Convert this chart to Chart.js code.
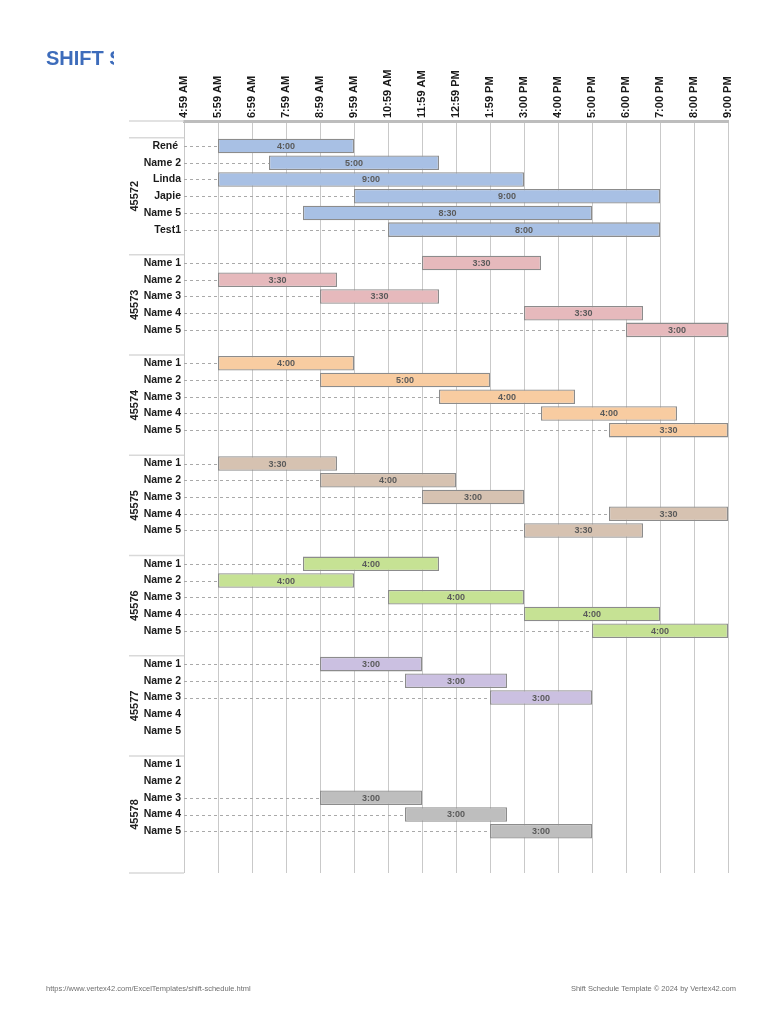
<!DOCTYPE html>
<html>
<head>
<meta charset="utf-8">
<script src="https://cdn.jsdelivr.net/npm/chart.js@4"></script>
<style>
    body { margin: 0; background: #fff; font-family: "Liberation Sans", Arial, sans-serif; }
    #wrap { position: relative; width: 768px; height: 1024px; }
    #grafico { position: absolute; left: 0; top: 0; }
    .titulo {
        position: absolute; left: 46px; top: 47px; width: 68px; overflow: hidden;
        white-space: nowrap; color: #3d6cbb; font-size: 20px; font-weight: bold;
    }
    .rodape { position: absolute; top: 984px; font-size: 7.5px; color: #6f6f6f; white-space: nowrap; }
</style>
</head>
<body>
<div id="wrap">
    <canvas id="grafico" width="768" height="1024"></canvas>
    <div class="titulo">SHIFT SCHEDULE</div>
    <div class="rodape" style="left:46px">https://www.vertex42.com/ExcelTemplates/shift-schedule.html</div>
    <div class="rodape" style="right:32px">Shift Schedule Template © 2024 by Vertex42.com</div>
</div>
<script>
// ============================================================================
// DADOS
// ============================================================================
const hourLabels = ['4:59 AM', '5:59 AM', '6:59 AM', '7:59 AM', '8:59 AM', '9:59 AM', '10:59 AM', '11:59 AM',
    '12:59 PM', '1:59 PM', '3:00 PM', '4:00 PM', '5:00 PM', '6:00 PM', '7:00 PM', '8:00 PM', '9:00 PM'];

const dates = ['45572', '45573', '45574', '45575', '45576', '45577', '45578'];

const names = [
    ['René ', 'Name 2', 'Linda', 'Japie', 'Name 5', 'Test1'],
    ['Name 1', 'Name 2', 'Name 3', 'Name 4', 'Name 5'],
    ['Name 1', 'Name 2', 'Name 3', 'Name 4', 'Name 5'],
    ['Name 1', 'Name 2', 'Name 3', 'Name 4', 'Name 5'],
    ['Name 1', 'Name 2', 'Name 3', 'Name 4', 'Name 5'],
    ['Name 1', 'Name 2', 'Name 3', 'Name 4', 'Name 5'],
    ['Name 1', 'Name 2', 'Name 3', 'Name 4', 'Name 5']
];

// horas (decimal) de inicio e fim de cada turno
const shiftStart = [
    [6, 7.5, 6, 10, 8.5, 11],
    [12, 6, 9, 15, 18],
    [6, 9, 12.5, 15.5, 17.5],
    [6, 9, 12, 17.5, 15],
    [8.5, 6, 11, 15, 17],
    [9, 11.5, 14, null, null],
    [null, null, 9, 11.5, 14]
];
const shiftEnd = [
    [10, 12.5, 15, 19, 17, 19],
    [15.5, 9.5, 12.5, 18.5, 21],
    [10, 14, 16.5, 19.5, 21],
    [9.5, 13, 15, 21, 18.5],
    [12.5, 10, 15, 19, 21],
    [12, 14.5, 17, null, null],
    [null, null, 12, 14.5, 17]
];

const groupColors = ['#a8c0e4', '#e6b9bc', '#f8cca1', '#d6c2b1', '#c6e294', '#cbc0e1', '#bebebe'];


// ============================================================================
// MONTAGEM DAS LINHAS
// ============================================================================
const rowLabels = [''];
const rowData = [null];
const rowColors = ['#fff'];
const groupRanges = [];   // [primeira linha, ultima linha] de cada grupo

dates.forEach((d, g) => {
    const first = rowLabels.length;
    names[g].forEach((n, i) => {
        rowLabels.push(n);
        const s = shiftStart[g][i], e = shiftEnd[g][i];
        rowData.push(s === null ? null : [s, e]);
        rowColors.push(groupColors[g]);
    });
    rowLabels.push(''); rowData.push(null); rowColors.push('#fff');
    if (g === dates.length - 1) { rowLabels.push(''); rowData.push(null); rowColors.push('#fff'); }
    groupRanges.push([first, rowLabels.length - 1]);
});

function duracao(v) {
    const h = v[1] - v[0];
    const hh = Math.floor(h);
    const mm = Math.round((h - hh) * 60);
    return hh + ':' + String(mm).padStart(2, '0');
}


// ============================================================================
// PLUGIN – linhas tracejadas, rótulos e grupos
// ============================================================================
const extras = {
    id: 'extras',
    beforeDatasetsDraw(chart) {
        const ctx = chart.ctx;
        const meta = chart.getDatasetMeta(0);
        const left = chart.chartArea.left;
        ctx.save();
        ctx.strokeStyle = '#a9a9a9';
        ctx.lineWidth = 1;
        ctx.setLineDash([3, 3]);
        meta.data.forEach((bar, i) => {
            if (!rowData[i]) return;
            const x0 = Math.min(bar.x, bar.base);
            ctx.beginPath();
            ctx.moveTo(left, Math.round(bar.y) + 0.5);
            ctx.lineTo(x0, Math.round(bar.y) + 0.5);
            ctx.stroke();
        });
        ctx.restore();
    },
    afterDatasetsDraw(chart) {
        const ctx = chart.ctx;
        const meta = chart.getDatasetMeta(0);
        ctx.save();
        ctx.font = 'bold 9px "Liberation Sans", Arial, sans-serif';
        ctx.fillStyle = '#5a5a5a';
        ctx.textAlign = 'center';
        ctx.textBaseline = 'middle';
        meta.data.forEach((bar, i) => {
            if (!rowData[i]) return;
            ctx.fillText(duracao(rowData[i]), (bar.x + bar.base) / 2, bar.y + 0.5);
        });
        ctx.restore();
    },
    afterDraw(chart) {
        const ctx = chart.ctx;
        const y = chart.scales.y;
        const left = chart.chartArea.left;
        const rowH = (chart.chartArea.bottom - chart.chartArea.top) / rowLabels.length;
        ctx.save();
        ctx.strokeStyle = '#d9d9d9';
        ctx.lineWidth = 1.5;
        const linhas = [chart.chartArea.top];
        groupRanges.forEach(r => linhas.push(y.getPixelForValue(r[0]) - rowH / 2));
        linhas.push(chart.chartArea.bottom);
        linhas.forEach(py => {
            ctx.beginPath();
            ctx.moveTo(129, py);
            ctx.lineTo(left, py);
            ctx.stroke();
        });
        ctx.fillStyle = '#222';
        ctx.font = 'bold 11px "Liberation Sans", Arial, sans-serif';
        ctx.textAlign = 'center';
        ctx.textBaseline = 'middle';
        groupRanges.forEach((r, g) => {
            const top = y.getPixelForValue(r[0]) - rowH / 2;
            const bot = y.getPixelForValue(r[1]) + rowH / 2;
            ctx.save();
            ctx.translate(135, (top + bot) / 2);
            ctx.rotate(-Math.PI / 2);
            ctx.fillText(dates[g], 0, 0);
            ctx.restore();
        });
        ctx.restore();
    }
};


// ============================================================================
// GRÁFICO
// ============================================================================
new Chart(document.getElementById('grafico'), {
    type: 'bar',
    data: {
        labels: rowLabels,
        datasets: [{
            data: rowData,
            backgroundColor: rowColors,
            borderColor: '#8c8c8c',
            borderWidth: 1.3,
            borderSkipped: false,
            barPercentage: 0.87,
            categoryPercentage: 1
        }]
    },
    options: {
        indexAxis: 'y',
        responsive: false,
        animation: false,
        layout: { padding: { top: 0, left: 0, right: 40, bottom: 151 } },
        plugins: { legend: { display: false }, tooltip: { enabled: false } },
        scales: {
            x: {
                type: 'linear',
                position: 'top',
                min: 5,
                max: 21,
                afterFit: s => { s.height = 121; },
                grid: { color: '#c9c9c9', lineWidth: 1, drawTicks: false },
                border: { color: '#bdbdbd', width: 3 },
                ticks: {
                    stepSize: 1,
                    autoSkip: false,
                    minRotation: 90,
                    maxRotation: 90,
                    padding: 3,
                    labelOffset: 13.5,
                    color: '#1a1a1a',
                    font: { family: '"Liberation Sans", Arial, sans-serif', size: 11, weight: 'bold' },
                    callback: v => hourLabels[v - 5]
                }
            },
            y: {
                afterFit: s => { s.width = 184; },
                grid: { display: false, drawTicks: false },
                border: { display: false },
                ticks: {
                    autoSkip: false,
                    padding: 3,
                    color: '#1a1a1a',
                    font: { family: '"Liberation Sans", Arial, sans-serif', size: 10.5, weight: 'bold' }
                }
            }
        }
    },
    plugins: [extras]
});
</script>
</body>
</html>
